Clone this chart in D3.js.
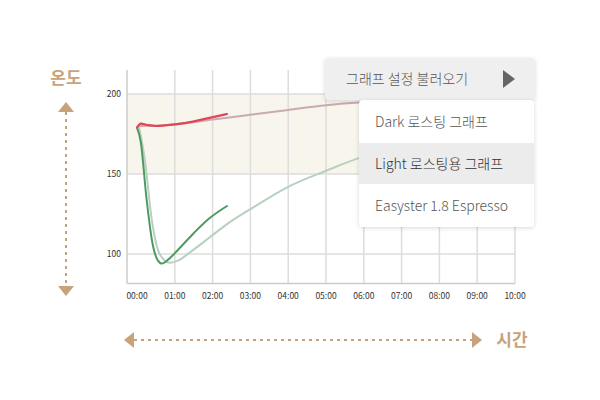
<!DOCTYPE html><html><head><meta charset="utf-8"><script src="https://d3js.org/d3.v7.min.js"></script>
<style>body{margin:0;background:#fff}text{font-family:"Noto Sans CJK KR","Noto Sans",sans-serif}</style></head><body>
<svg id="c" width="600" height="400"></svg>
<script>
const xTicks=["00:00","01:00","02:00","03:00","04:00","05:00","06:00","07:00","08:00","09:00","10:00"];
const yTicks=[100,150,200];
const refTime=[0.05,1,2,3,4,5,6,7];
const refTemp=[180,181,184,187,190,193,195,197];
const redTime=[0,0.1,0.3,0.5,0.8,1.3,1.8,2.38];
const redTemp=[179,181.5,180.5,180,180.5,182,184.5,187.5];
const lgTime=[0.05,0.2,0.4,0.6,0.87,1.1,1.4,1.9,2.4,3,4,5,6,7];
const lgTemp=[180,160,120,100,94.5,96,101,110,119,128,142,152,161,167];
const dgTime=[0,0.1,0.25,0.4,0.55,0.66,0.8,1.1,1.5,1.9,2.38];
const dgTemp=[179,170,135,108,96,94,96,103,113,122,130];
const menuItems=["Dark 로스팅 그래프","Light 로스팅용 그래프","Easyster 1.8 Espresso"];
const svg=d3.select("#c");
const x=d3.scaleLinear().domain([0,10]).range([137,515]);
const y=d3.scaleLinear().domain([100,200]).range([254,94]);
const yMin=81.5,yMax=215,xLeft=127;
svg.append("rect").attr("x",xLeft).attr("y",y(200)).attr("width",x(10)-xLeft).attr("height",y(150)-y(200)).attr("fill","#f8f5ec");
const g=svg.append("g");
d3.range(1,11).forEach(i=>g.append("line").attr("x1",x(i)).attr("x2",x(i)).attr("y1",y(yMax)).attr("y2",y(yMin)).attr("stroke","#ddd").attr("stroke-width",1.5));
yTicks.forEach(v=>g.append("line").attr("x1",xLeft).attr("x2",x(10)).attr("y1",y(v)).attr("y2",y(v)).attr("stroke","#ddd").attr("stroke-width",1.5));
g.append("line").attr("x1",xLeft).attr("x2",xLeft).attr("y1",y(yMax)).attr("y2",y(yMin)).attr("stroke","#ccc").attr("stroke-width",1.5);
g.append("line").attr("x1",xLeft).attr("x2",x(10)).attr("y1",y(yMin)).attr("y2",y(yMin)).attr("stroke","#ccc").attr("stroke-width",1.5);
xTicks.forEach((t,i)=>svg.append("text").attr("x",x(i)).attr("y",299).attr("text-anchor","middle").attr("font-size",8.5).attr("fill","#333").text(t));
yTicks.forEach(v=>svg.append("text").attr("x",121).attr("y",y(v)+3).attr("text-anchor","end").attr("font-size",8.5).attr("fill","#333").text(v));
const line=d3.line().curve(d3.curveMonotoneX);
function draw(ts,vs,c,w){svg.append("path").attr("d",line(ts.map((t,i)=>[x(t),y(vs[i])]))).attr("fill","none").attr("stroke",c).attr("stroke-width",w).attr("stroke-linecap","round");}
draw(refTime,refTemp,"#c9aab2",2);
draw(lgTime,lgTemp,"#b8d0c0",2);
draw(dgTime,dgTemp,"#4e9a62",2);
draw(redTime,redTemp,"#e04558",2.2);
const defs=svg.append("defs");
const f=defs.append("filter").attr("id","sh").attr("x","-20%").attr("y","-20%").attr("width","140%").attr("height","140%");
f.append("feDropShadow").attr("dx",0).attr("dy",1).attr("stdDeviation",2).attr("flood-color","#000").attr("flood-opacity",0.15);
svg.append("rect").attr("x",325).attr("y",58).attr("width",210).attr("height",42).attr("rx",4).attr("fill","#efefef").attr("filter","url(#sh)");
svg.append("text").attr("x",346).attr("y",84).attr("font-size",14).attr("font-weight",300).attr("fill","#555").text("그래프 설정 불러오기");
svg.append("path").attr("d","M503,70 L515,79 L503,88 Z").attr("fill","#666");
svg.append("rect").attr("x",359).attr("y",100).attr("width",175).attr("height",127).attr("rx",4).attr("fill","#fff").attr("filter","url(#sh)");
svg.append("rect").attr("x",359).attr("y",143).attr("width",175).attr("height",41).attr("fill","#ececec");
menuItems.forEach((m,i)=>svg.append("text").attr("x",375).attr("y",127+i*42).attr("font-size",14).attr("font-weight",300).attr("fill",i==1?"#333":"#555").text(m));
const brown="#c8a27a";
svg.append("text").attr("x",66).attr("y",84).attr("text-anchor","middle").attr("font-size",17).attr("font-weight","bold").attr("fill",brown).text("온도");
svg.append("line").attr("x1",66).attr("x2",66).attr("y1",112).attr("y2",286).attr("stroke",brown).attr("stroke-width",2).attr("stroke-dasharray","3,4");
svg.append("path").attr("d","M58,112 L66,102 L74,112 Z").attr("fill",brown);
svg.append("path").attr("d","M58,286 L66,296 L74,286 Z").attr("fill",brown);
svg.append("text").attr("x",512).attr("y",346).attr("text-anchor","middle").attr("font-size",17).attr("font-weight","bold").attr("fill",brown).text("시간");
svg.append("line").attr("x1",134).attr("x2",472).attr("y1",340).attr("y2",340).attr("stroke",brown).attr("stroke-width",2).attr("stroke-dasharray","3,4");
svg.append("path").attr("d","M134,332 L124,340 L134,348 Z").attr("fill",brown);
svg.append("path").attr("d","M472,332 L482,340 L472,348 Z").attr("fill",brown);
</script></body></html>
